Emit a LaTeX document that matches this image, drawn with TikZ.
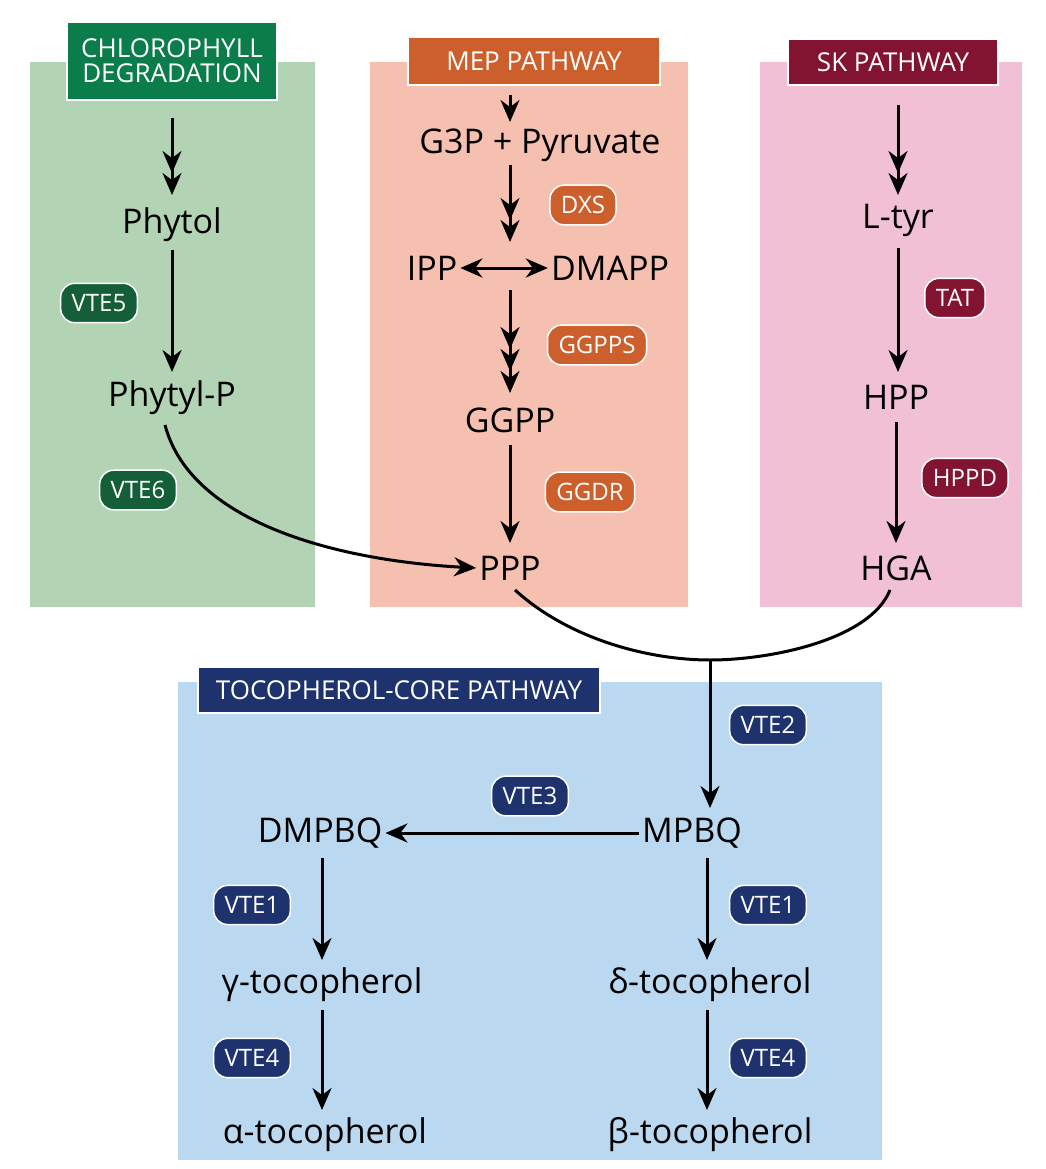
\documentclass[tikz,border=0pt]{standalone}
\usepackage{fontspec}
\setmainfont{Open Sans}
\usetikzlibrary{arrows.meta}
\definecolor{gpan}{RGB}{178,212,180}
\definecolor{ghd}{RGB}{10,125,75}
\definecolor{genz}{RGB}{20,95,55}
\definecolor{opan}{RGB}{246,192,176}
\definecolor{ohd}{RGB}{205,95,45}
\definecolor{ppan}{RGB}{241,192,212}
\definecolor{phd}{RGB}{130,20,50}
\definecolor{bpan}{RGB}{186,216,240}
\definecolor{bhd}{RGB}{30,50,110}
\begin{document}
\begin{tikzpicture}[x=1pt,y=-1pt,
 met/.style={font=\fontsize{34}{36}\selectfont,inner sep=3pt},
 enz/.style={rounded corners=14pt,font=\fontsize{24}{26}\selectfont,text=white,inner xsep=11pt,inner ysep=11pt,draw=white,line width=1.5pt},
 hd/.style={font=\fontsize{26}{27}\selectfont,text=white,align=center,draw=white,line width=1.2pt,inner sep=2pt},
 ar/.style={line width=3pt,-{Stealth[length=22pt,width=19pt]}},
 ar2/.style={line width=3pt,-{Stealth[length=22pt,width=19pt]Stealth[length=22pt,width=19pt]}},
 ar3/.style={line width=3pt,-{Stealth[length=22pt,width=19pt]Stealth[length=22pt,width=19pt]Stealth[length=22pt,width=19pt]}}]
\useasboundingbox (0,0) rectangle (1045,1169);
\fill[white] (0,0) rectangle (1045,1169);
% panels
\fill[gpan] (30,62) rectangle (315,607);
\fill[opan] (370,62) rectangle (688,607);
\fill[ppan] (760,62) rectangle (1022,607);
\fill[bpan] (178,682) rectangle (882,1160);
\node[hd,fill=ghd,minimum width=210pt,minimum height=78pt] (h1) at (172,61) {CHLOROPHYLL\\[-2pt]DEGRADATION};
\node[hd,fill=ohd,minimum width=252pt,minimum height=48pt] (h2) at (534,61) {MEP PATHWAY};
\node[hd,fill=phd,minimum width=210pt,minimum height=46pt] (h3) at (893,62) {SK PATHWAY};
\node[hd,fill=bhd,minimum width=402pt,minimum height=46pt] (h4) at (399,690) {TOCOPHEROL-CORE PATHWAY};
% metabolites
\node[met] (phytol) at (172,225) {Phytol};
\node[met] (phytylp) at (172,398) {Phytyl-P};
\node[met] (g3p) at (540,145) {G3P + Pyruvate};
\node[met] (ipp) at (432,268) {IPP};
\node[met] (dmapp) at (610,268) {DMAPP};
\node[met] (ggpp) at (510,420) {GGPP};
\node[met] (ppp) at (510,568) {PPP};
\node[met] (ltyr) at (898,220) {L-tyr};
\node[met] (hpp) at (896,397) {HPP};
\node[met] (hga) at (896,568) {HGA};
\node[met] (mpbq) at (692,833) {MPBQ};
\node[met] (dmpbq) at (320,833) {DMPBQ};
\node[met] (gtoc) at (322,985) {γ-tocopherol};
\node[met] (dtoc) at (710,985) {δ-tocopherol};
\node[met] (atoc) at (325,1135) {α-tocopherol};
\node[met] (btoc) at (710,1135) {β-tocopherol};
% enzymes
\node[enz,fill=genz] (vte5) at (99,303) {VTE5};
\node[enz,fill=genz] (vte6) at (138,490) {VTE6};
\node[enz,fill=ohd] (dxs) at (583,205) {DXS};
\node[enz,fill=ohd] (ggpps) at (597,345) {GGPPS};
\node[enz,fill=ohd] (ggdr) at (590,492) {GGDR};
\node[enz,fill=phd] (tat) at (955,298) {TAT};
\node[enz,fill=phd] (hppd) at (965,478) {HPPD};
\node[enz,fill=bhd] (vte2) at (768,725) {VTE2};
\node[enz,fill=bhd] (vte3) at (530,796) {VTE3};
\node[enz,fill=bhd] (vte1a) at (252,905) {VTE1};
\node[enz,fill=bhd] (vte1b) at (768,905) {VTE1};
\node[enz,fill=bhd] (vte4a) at (252,1058) {VTE4};
\node[enz,fill=bhd] (vte4b) at (768,1058) {VTE4};
% coordinates
\coordinate (c1) at (172,118);
\coordinate (c2) at (510,95);
\coordinate (c3) at (898,105);
\coordinate (j) at (710,660);
% arrows
\draw[ar2] (c1) -- (172,195);
\draw[ar] (172,250) -- (172,372);
\draw[ar] (165,425) .. controls (190,520) and (330,560) .. (ppp.west);
\draw[ar] (c2) -- (510,122);
\draw[ar2] (510,165) -- (510,242);
\draw[line width=3pt,{Stealth[length=22pt,width=19pt]}-{Stealth[length=22pt,width=19pt]}] (ipp.east) -- (dmapp.west);
\draw[ar3] (510,290) -- (510,393);
\draw[ar] (510,445) -- (510,543);
\draw[ar2] (c3) -- (898,195);
\draw[ar] (898,248) -- (898,372);
\draw[ar] (896,422) -- (896,543);
\draw[line width=3pt] (515,590) .. controls (570,640) and (650,660) .. (j);
\draw[line width=3pt] (890,590) .. controls (870,640) and (770,660) .. (j);
\draw[ar] (j) -- (710,808);
\draw[ar] (mpbq.west) -- (dmpbq.east);
\draw[ar] (322,858) -- (322,960);
\draw[ar] (322,1010) -- (322,1110);
\draw[ar] (707,858) -- (707,960);
\draw[ar] (707,1010) -- (707,1110);
\end{tikzpicture}
\end{document}
